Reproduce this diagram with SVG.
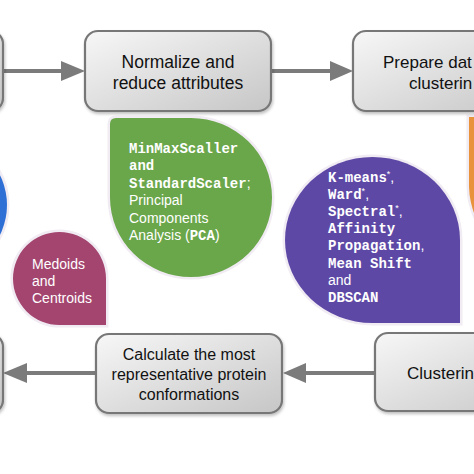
<svg xmlns="http://www.w3.org/2000/svg" width="474" height="474" viewBox="0 0 474 474">
<defs>
<linearGradient id="boxg" x1="0" y1="0" x2="1" y2="1">
<stop offset="0" stop-color="#f7f7f7"/>
<stop offset="1" stop-color="#c6c6c6"/>
</linearGradient>
<filter id="sh" x="-10%" y="-10%" width="120%" height="130%">
<feDropShadow dx="1" dy="2" stdDeviation="1.5" flood-color="#000" flood-opacity="0.25"/>
</filter>
</defs>
<style>
.box{fill:url(#boxg);stroke:#777;stroke-width:2.2;filter:url(#sh)}
.bt{font-family:"Liberation Sans",Arial,sans-serif;fill:#111;text-anchor:middle}
.bs{font-family:"Liberation Sans",Arial,sans-serif;fill:#111;text-anchor:start}
.conn{stroke:#7b7b7b;stroke-width:4;fill:none}
.head{fill:#7b7b7b}
.blob{stroke:#f1ecf3;stroke-width:5;paint-order:stroke}
.wt{font-family:"Liberation Sans",Arial,sans-serif;font-size:14px;fill:#fff}
.mo{font-family:"Liberation Mono","Courier New",monospace;font-weight:bold}
</style>
<rect width="474" height="474" fill="#fff"/>

<g id="blue-blob"><circle class="blob" cx="-60" cy="205" r="67" fill="#2e6fd6"/></g>
<g id="orange-blob"><path class="blob" d="M469,117 H620 V265 H549 A80,80 0 0 1 469,187 Z" fill="#e8933c"/></g>

<g id="green-blob">
<path class="blob" d="M116,118 H191 A81,79.5 0 0 1 272,197.5 A81,79.5 0 0 1 191,277 A81,79.5 0 0 1 110,197.5 V124 Q110,118 116,118 Z" fill="#6aa64a"/>
<text class="wt" x="129" y="153"><tspan class="mo">MinMaxScaller</tspan></text>
<text class="wt" x="129" y="170.4"><tspan class="mo">and</tspan></text>
<text class="wt" x="129" y="187.8"><tspan class="mo">StandardScaler</tspan>;</text>
<text class="wt" x="129" y="205.2">Principal</text>
<text class="wt" x="129" y="222.6">Components</text>
<text class="wt" x="129" y="240">Analysis (<tspan class="mo">PCA</tspan>)</text>
</g>

<g id="purple-blob">
<path class="blob" d="M460,323 H372.5 A87.5,83 0 0 1 285,240 A87.5,83 0 0 1 372.5,157 A87.5,83 0 0 1 460,240 Z" fill="#5e48a6"/>
<text class="wt" x="328" y="182"><tspan class="mo">K-means</tspan><tspan font-size="9" dy="-5">*</tspan><tspan dy="5">,</tspan></text>
<text class="wt" x="328" y="199.1"><tspan class="mo">Ward</tspan><tspan font-size="9" dy="-5">*</tspan><tspan dy="5">,</tspan></text>
<text class="wt" x="328" y="216.2"><tspan class="mo">Spectral</tspan><tspan font-size="9" dy="-5">*</tspan><tspan dy="5">,</tspan></text>
<text class="wt" x="328" y="233.3"><tspan class="mo">Affinity</tspan></text>
<text class="wt" x="328" y="250.4"><tspan class="mo">Propagation</tspan>,</text>
<text class="wt" x="328" y="267.5"><tspan class="mo">Mean Shift</tspan></text>
<text class="wt" x="328" y="284.6">and</text>
<text class="wt" x="328" y="301.7"><tspan class="mo">DBSCAN</tspan></text>
</g>

<g id="magenta-blob">
<path class="blob" d="M106,325 H59.5 A46.5,46.5 0 0 1 13,278.5 A46.5,46.5 0 0 1 59.5,232 A46.5,46.5 0 0 1 106,278.5 Z" fill="#a4456f"/>
<text class="wt" x="32" y="269">Medoids</text>
<text class="wt" x="32" y="286">and</text>
<text class="wt" x="32" y="303">Centroids</text>
</g>

<g id="connectors">
<line class="conn" x1="3" y1="71" x2="63" y2="71"/>
<polygon class="head" points="61,61 85,71 61,81"/>
<line class="conn" x1="271" y1="71" x2="332" y2="71"/>
<polygon class="head" points="330,61 353,71 330,81"/>
<line class="conn" x1="375" y1="373" x2="304" y2="373"/>
<polygon class="head" points="306,363 283,373 306,383"/>
<line class="conn" x1="96" y1="373" x2="25" y2="373"/>
<polygon class="head" points="27,363 3,373 27,383"/>
</g>

<g id="box-left-top"><rect class="box" x="-180" y="31" width="183" height="80" rx="13"/></g>
<g id="box-normalize">
<rect class="box" x="85" y="31" width="186" height="80" rx="13"/>
<text class="bt" x="178" y="67.5" font-size="17.5">Normalize and</text>
<text class="bt" x="178" y="88.5" font-size="17.5">reduce attributes</text>
</g>
<g id="box-prepare">
<rect class="box" x="353" y="31" width="182" height="80" rx="13"/>
<text class="bs" x="383" y="67.5" font-size="17">Prepare dat</text>
<text class="bs" x="409" y="88.5" font-size="17">clusterin</text>
</g>
<g id="box-left-bottom"><rect class="box" x="-180" y="334" width="183" height="79" rx="13"/></g>
<g id="box-calculate">
<rect class="box" x="96" y="334" width="186" height="79" rx="13"/>
<text class="bt" x="189" y="360" font-size="16">Calculate the most</text>
<text class="bt" x="189" y="380" font-size="16">representative protein</text>
<text class="bt" x="189" y="399.5" font-size="16">conformations</text>
</g>
<g id="box-clustering">
<rect class="box" x="375" y="333" width="182" height="78" rx="13"/>
<text class="bs" x="407" y="379" font-size="17">Clusterin</text>
</g>
</svg>
